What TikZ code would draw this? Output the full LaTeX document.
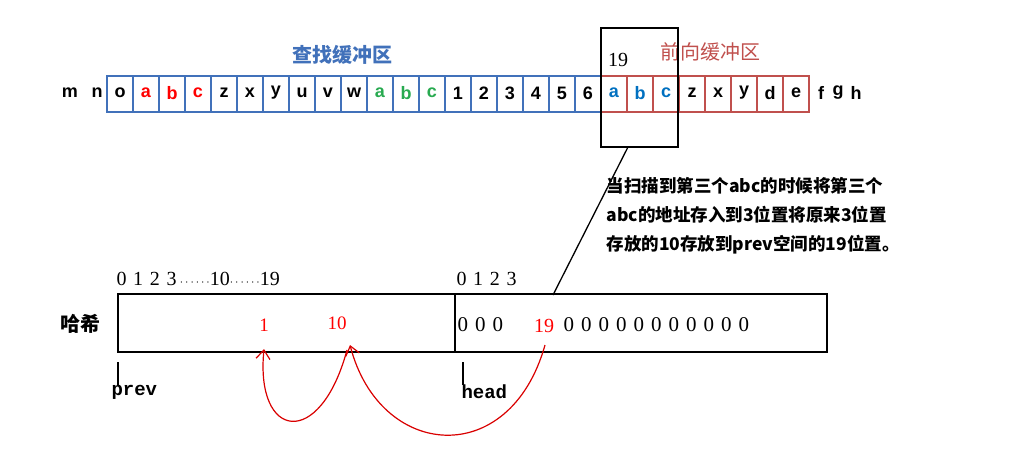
\documentclass[tikz,border=0pt]{standalone}
\usepackage{fontspec}
\usetikzlibrary{arrows.meta}
\setmainfont{Liberation Sans}
\newfontfamily\cjk{Noto Sans CJK SC}
\newfontfamily\serif{Liberation Serif}
\newfontfamily\mono{Liberation Mono}
\begin{document}
\begin{tikzpicture}[x=1pt,y=-1pt,
  ch/.style={font=\bfseries\fontsize{18}{18}\selectfont},
  arr/.style={red!85!black,line width=1.2pt,-{Straight Barb[length=9pt,width=14pt]}}]
\useasboundingbox (0,0) rectangle (1013,453);
\definecolor{bb}{RGB}{65,113,186}
\definecolor{rr}{RGB}{192,80,77}
\definecolor{gg}{RGB}{40,170,80}
\definecolor{tb}{RGB}{0,112,192}
\node[ch] (m) at (70,93) {m};
\node[ch] (n) at (97,93) {n};
\foreach \t/\c [count=\i from 0] in {o/black,a/red,b/red,c/red,z/black,x/black,y/black,u/black,v/black,w/black,a/gg,b/gg,c/gg,1/black,2/black,3/black,4/black,5/black,6/black}{
  \draw[draw=bb,line width=1.3pt] (107+\i*26,76) rectangle +(26,36);
  \node[ch,text=\c] (s\i) at (120+\i*26,93) {\t};
}
\draw[draw=bb,line width=2pt] (107,76) rectangle (133,112);
\foreach \t/\c [count=\i from 0] in {a/tb,b/tb,c/tb,z/black,x/black,y/black,d/black,e/black}{
  \draw[draw=rr,line width=1.3pt] (601+\i*26,76) rectangle +(26,36);
  \node[ch,text=\c] (f\i) at (614+\i*26,93) {\t};
}
\node[ch] (fg) at (821,93) {f};
\node[ch] (gg1) at (838,93) {g};
\node[ch] (hh) at (856,93) {h};
\node[text=bb,font=\cjk\bfseries\fontsize{20}{20}\selectfont] (lab1) at (342,55) {查找缓冲区};
\node[text=rr,font=\cjk\fontsize{20}{20}\selectfont] (lab2) at (710,52) {前向缓冲区};
\node[font=\serif\fontsize{20}{20}\selectfont] (n19) at (618,60) {19};
\draw[line width=2.2pt] (601,28) rectangle (678,147);
\coordinate (bt) at (628,147);
\node[align=left,anchor=west,font=\cjk\bfseries\fontsize{17.5}{29}\selectfont] (note) at (603,216) {当扫描到第三个abc的时候将第三个\\abc的地址存入到3位置将原来3位置\\存放的10存放到prev空间的19位置。};
\draw[line width=1.5pt] (118,294) rectangle (455,352);
\draw[line width=1.5pt] (455,294) rectangle (827,352);
\node[font=\serif\fontsize{20}{20}\selectfont,anchor=west] (idx1) at (113,279) {0\,\,1\,\,2\,\,3\,{\fontsize{12}{12}\selectfont$\cdots\cdots$}10{\fontsize{12}{12}\selectfont$\cdots\cdots$}19};
\node[font=\serif\fontsize{20}{20}\selectfont,anchor=west] (idx2) at (453,279) {0\,\,1\,\,2\,\,3};
\node[font=\cjk\bfseries\fontsize{20}{20}\selectfont] (hx) at (80,324) {哈希};
\node[text=red,font=\serif\fontsize{19}{19}\selectfont] (one) at (264,325) {1};
\node[text=red,font=\serif\fontsize{19}{19}\selectfont] (ten) at (337,323) {10};
\node[font=\serif\fontsize{21}{21}\selectfont,anchor=west] (zl) at (454,325) {0\,\,0\,\,0};
\node[text=red,font=\serif\fontsize{20}{20}\selectfont] (n19b) at (544,326) {19};
\node[font=\serif\fontsize{21}{21}\selectfont,anchor=west] (zr) at (560,325) {0\,\,0\,\,0\,\,0\,\,0\,\,0\,\,0\,\,0\,\,0\,\,0\,\,0};
\coordinate (lt) at (553,295);
\draw[line width=1.3pt] (bt) -- (lt);
\draw[line width=1.3pt] (463,362) -- (463,385);
\draw[line width=1.3pt] (118,362) -- (118,385);
\node[font=\mono\bfseries\fontsize{19}{19}\selectfont,anchor=west] (prev) at (108,392) {prev};
\node[font=\mono\bfseries\fontsize{19}{19}\selectfont,anchor=west] (head) at (458,392) {head};
\coordinate (a1) at (545,345);
\coordinate (a2) at (350,345);
\coordinate (a3) at (264,349);
\coordinate (a4) at (347,350);
\draw[arr] (a1) .. controls (510,470) and (380,460) .. (a2);
\draw[arr] (a4) .. controls (320,450) and (255,440) .. (a3);
\end{tikzpicture}
\end{document}
